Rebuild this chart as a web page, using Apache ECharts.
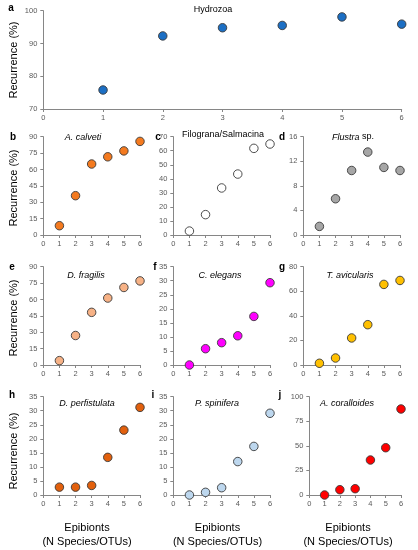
<!DOCTYPE html>
<html><head><meta charset="utf-8">
<script src="https://cdn.jsdelivr.net/npm/echarts@6/dist/echarts.min.js"></script>
<style>html,body{margin:0;padding:0;background:#fff;}#c{width:418px;height:550px;}</style>
</head><body><div id="c"></div>
<script>
// ---- data ----
const xValues = [1, 2, 3, 4, 5, 6];
const hydrozoa      = [75.8, 92.3, 94.8, 95.5, 98.1, 95.9];
const aCalveti      = [8.5, 36, 65, 71.6, 77, 85.7];
const filograna     = [2.8, 14.5, 33.5, 43.4, 61.7, 64.8];
const flustra       = [1.4, 5.9, 10.5, 13.5, 11.0, 10.5];
const dFragilis     = [4, 27, 48.2, 61.3, 71, 77];
const cElegans      = [0, 5.8, 7.95, 10.4, 17.3, 29.3];
const tAvicularis   = [1.4, 5.7, 22, 32.8, 65.6, 68.8];
const dPerfistulata = [2.8, 2.8, 3.4, 13.4, 23.1, 31.2];
const pSpinifera    = [0, 0.95, 2.6, 11.9, 17.3, 29.1];
const aCoralloides  = [0, 5.4, 6.4, 35.6, 48.1, 87.5];
const panelLetters  = ['a','b','c','d','e','f','g','h','i','j'];
const panelTitles   = ['Hydrozoa','{i|A. calveti}','Filograna/Salmacina','{i|Flustra} sp.','{i|D. fragilis}','{i|C. elegans}','{i|T. avicularis}','{i|D. perfistulata}','{i|P. spinifera}','{i|A. coralloides}'];
const yMins      = [70, 0, 0, 0, 0, 0, 0, 0, 0, 0];
const yMaxs      = [100, 90, 70, 16, 90, 35, 80, 35, 35, 100];
const yIntervals = [10, 15, 10, 4, 15, 5, 20, 5, 5, 25];
const xMin = 0, xMax = 6, xInterval = 1;
const seriesData = [hydrozoa, aCalveti, filograna, flustra, dFragilis, cElegans, tAvicularis, dPerfistulata, pSpinifera, aCoralloides];

// ---- layout / style ----
const colors = ['#1c6fc4','#f47a1f','#ffffff','#a6a6a6','#f7b286','#ff00ff','#ffc000','#e2600d','#bdd7ee','#ff0000'];
const grids = [
  {left:43.3, top:10.7, width:358.4, height:98.3},
  {left:43.3, top:136.7, width:96.7, height:98.3},
  {left:173.3, top:136.7, width:96.7, height:98.3},
  {left:303.3, top:136.7, width:96.7, height:98.3},
  {left:43.3, top:266.7, width:96.7, height:98.3},
  {left:173.3, top:266.7, width:96.7, height:98.3},
  {left:303.3, top:266.7, width:96.7, height:98.3},
  {left:43.3, top:396.7, width:96.7, height:98.3},
  {left:173.3, top:396.7, width:96.7, height:98.3},
  {left:309.3, top:396.7, width:91.7, height:98.3}
];
const letterPos = [[11,8],[13,137],[158,137],[282,137],[12,267],[155,267],[282,267],[12,395],[153,395],[280,395]];
const titlePos  = [[213,10],[83,137],[223,135],[353,137],[86,275],[220,275],[350,275],[87,403],[217,403],[347,403]];
const FONT = '"Liberation Sans", Arial, sans-serif';
const axisColor = '#868686';
const labelColor = '#595959';

const option = {
  animation: false,
  grid: grids.map(g => Object.assign({containLabel:false}, g)),
  xAxis: grids.map((g, i) => ({
    gridIndex: i, type: 'value', min: xMin, max: xMax, interval: xInterval,
    axisLine: {show: true, onZero: false, lineStyle: {color: axisColor, width: 1}},
    axisTick: {show: true, length: 3, lineStyle: {color: axisColor}},
    splitLine: {show: false},
    axisLabel: {color: labelColor, fontSize: 7.5, fontFamily: FONT, margin: 5}
  })),
  yAxis: grids.map((g, i) => ({
    gridIndex: i, type: 'value', min: yMins[i], max: yMaxs[i], interval: yIntervals[i],
    axisLine: {show: true, lineStyle: {color: axisColor, width: 1}},
    axisTick: {show: true, length: 3, lineStyle: {color: axisColor}},
    splitLine: {show: false},
    axisLabel: {color: labelColor, fontSize: 7.5, fontFamily: FONT, margin: 6}
  })),
  series: seriesData.map((d, i) => ({
    type: 'scatter', xAxisIndex: i, yAxisIndex: i,
    data: d.map((v, k) => [xValues[k], v]),
    symbol: 'circle', symbolSize: 8.5,
    itemStyle: {color: colors[i], borderColor: '#3a3a3a', borderWidth: 0.9, opacity: 1}
  })),
  graphic: []
};

panelLetters.forEach((L, i) => {
  option.graphic.push({type: 'text', x: letterPos[i][0], y: letterPos[i][1],
    style: {text: L, fontSize: 10, fontWeight: 'bold', fontFamily: FONT, fill: '#000', align: 'center', verticalAlign: 'middle'}});
  option.graphic.push({type: 'text', x: titlePos[i][0], y: titlePos[i][1],
    style: {text: panelTitles[i], fontSize: 9, fontFamily: FONT, fill: '#000', align: 'center', verticalAlign: 'middle',
      rich: {i: {fontStyle: 'italic', fontSize: 9, fontFamily: FONT, fill: '#000'}}}});
});
[[14,60],[14,188],[14,318],[14,451]].forEach(p => {
  option.graphic.push({type: 'text', x: p[0], y: p[1], rotation: Math.PI / 2,
    style: {text: 'Recurrence (%)', fontSize: 11, fontFamily: FONT, fill: '#000', align: 'center', verticalAlign: 'middle'}});
});
[87, 217.5, 348].forEach(x => {
  option.graphic.push({type: 'text', x: x, y: 528,
    style: {text: 'Epibionts', fontSize: 11, fontFamily: FONT, fill: '#000', align: 'center', verticalAlign: 'middle'}});
  option.graphic.push({type: 'text', x: x, y: 541.7,
    style: {text: '(N Species/OTUs)', fontSize: 11, fontFamily: FONT, fill: '#000', align: 'center', verticalAlign: 'middle'}});
});

const chart = echarts.init(document.getElementById('c'), null, {renderer: 'canvas'});
chart.setOption(option);
</script></body></html>
